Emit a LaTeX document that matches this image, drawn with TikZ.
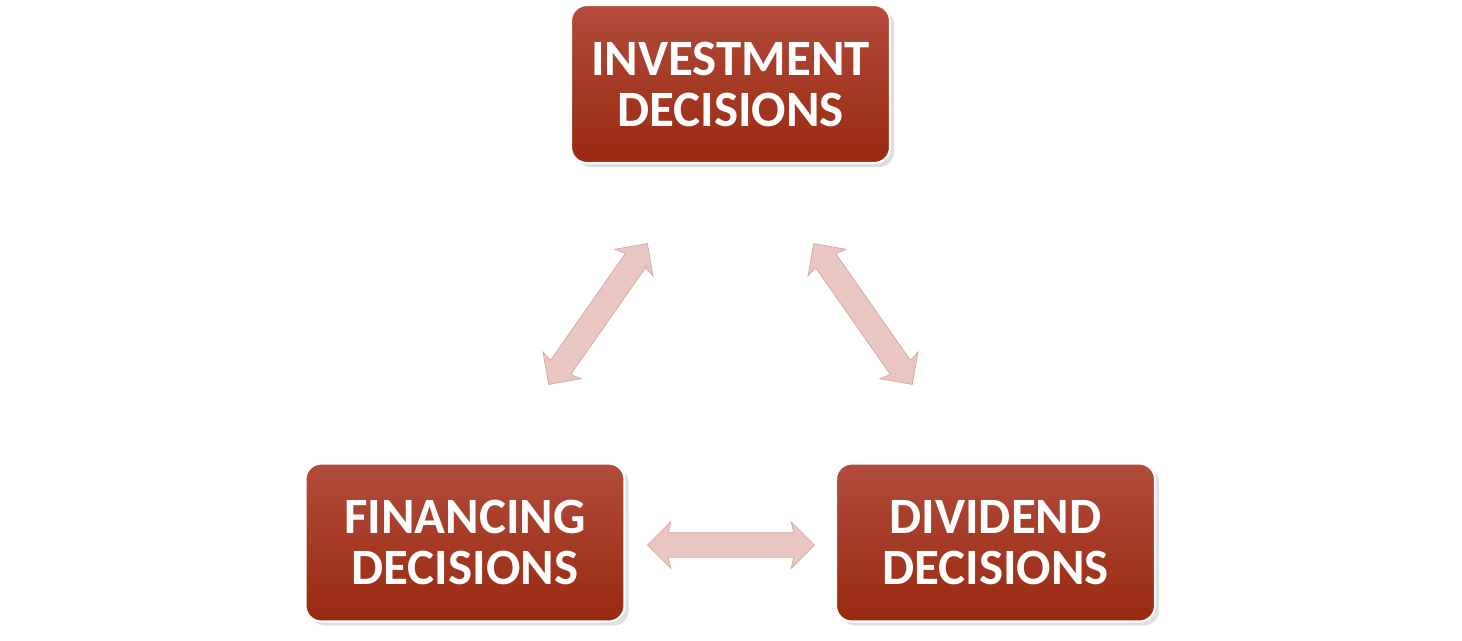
\documentclass[tikz,border=0pt]{standalone}
\usepackage{fontspec}
\setmainfont{Carlito}
\usetikzlibrary{shapes.arrows,shadows}
\definecolor{boxtop}{HTML}{B24C3C}
\definecolor{boxbot}{HTML}{98290F}
\definecolor{arrowfill}{HTML}{E9C6C2}
\definecolor{arrowedge}{HTML}{D8A7A1}
\tikzset{
  decisionbox/.style={draw=white, line width=1.2pt, rounded corners=9pt,
    top color=boxtop, bottom color=boxbot, drop shadow={opacity=.25},
    minimum width=319*0.02cm, minimum height=158*0.02cm,
    align=center, text=white, font=\fontsize{29}{29}\selectfont\bfseries},
  linkarrow/.style={double arrow, draw=arrowedge, fill=arrowfill,
    minimum height=172*0.02cm, inner xsep=0pt, inner ysep=0.24cm,
    double arrow head extend=0.22cm, double arrow head indent=0.05cm}
}
\begin{document}
\begin{tikzpicture}[x=0.02cm,y=-0.02cm]
    \useasboundingbox (0,0) rectangle (1462,640);
    % the three decisions
    \node[decisionbox] (invest) at (730.5, 84) {INVESTMENT\\DECISIONS};
    \node[decisionbox] (finance) at (465, 542.5) {FINANCING\\DECISIONS};
    \node[decisionbox] (divid) at (995.5, 542.5) {DIVIDEND\\DECISIONS};
    % links between them
    \node[linkarrow, rotate=55] (fi) at (598, 314) {};
    \node[linkarrow, rotate=-55] (id) at (863, 314) {};
    \node[linkarrow, minimum height=167*0.02cm] (fd) at (731, 545) {};
\end{tikzpicture}
\end{document}
